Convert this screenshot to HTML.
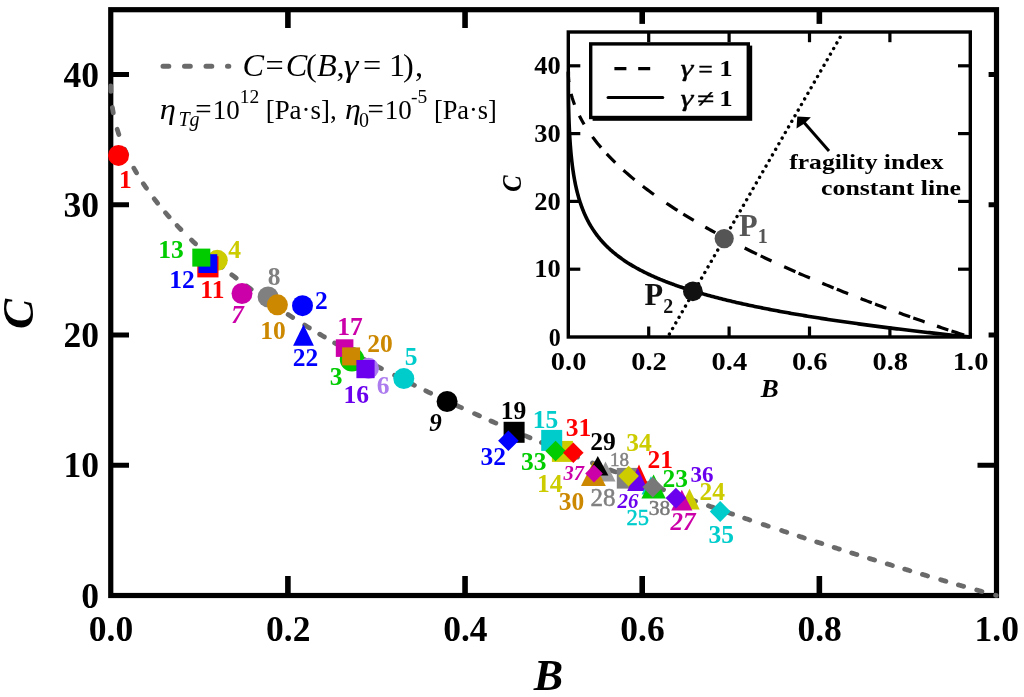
<!DOCTYPE html>
<html lang="en"><head><meta charset="utf-8"><title>C versus B plot</title>
<style>html,body{margin:0;padding:0;background:#fff;}body{width:1024px;height:697px;overflow:hidden;}svg{display:block;}text{font-family:"Liberation Serif", "DejaVu Serif", serif;}</style></head><body>
<svg width="1024" height="697" viewBox="0 0 1024 697">
<rect width="1024" height="697" fill="#fff"/>
<g id="main-axes" stroke="#000" fill="none">
<rect x="110.75" y="9.70" width="885.75" height="585.80" stroke-width="5.2"/>
<line x1="287.90" y1="595" x2="287.90" y2="576" stroke-width="5.6"/>
<line x1="287.90" y1="10" x2="287.90" y2="28.0" stroke-width="5.6"/>
<line x1="465.05" y1="595" x2="465.05" y2="576" stroke-width="5.6"/>
<line x1="465.05" y1="10" x2="465.05" y2="28.0" stroke-width="5.6"/>
<line x1="642.20" y1="595" x2="642.20" y2="576" stroke-width="5.6"/>
<line x1="642.20" y1="10" x2="642.20" y2="23.9" stroke-width="5.6"/>
<line x1="819.35" y1="595" x2="819.35" y2="576" stroke-width="5.6"/>
<line x1="819.35" y1="10" x2="819.35" y2="23.9" stroke-width="5.6"/>
<line x1="111" y1="465.25" x2="129" y2="465.25" stroke-width="5"/>
<line x1="996" y1="465.25" x2="977.5" y2="465.25" stroke-width="5"/>
<line x1="111" y1="335.00" x2="129" y2="335.00" stroke-width="5"/>
<line x1="996" y1="335.00" x2="988.6" y2="335.00" stroke-width="5"/>
<line x1="111" y1="204.75" x2="129" y2="204.75" stroke-width="5"/>
<line x1="996" y1="204.75" x2="988.6" y2="204.75" stroke-width="5"/>
<line x1="111" y1="74.50" x2="129" y2="74.50" stroke-width="5"/>
<line x1="996" y1="74.50" x2="988.6" y2="74.50" stroke-width="5"/>
</g>
<g id="main-ticklabels" font-weight="bold" font-size="35.5" fill="#000">
<text x="111.05" y="640.8" text-anchor="middle">0.0</text>
<text x="288.20" y="640.8" text-anchor="middle">0.2</text>
<text x="465.35" y="640.8" text-anchor="middle">0.4</text>
<text x="642.50" y="640.8" text-anchor="middle">0.6</text>
<text x="819.65" y="640.8" text-anchor="middle">0.8</text>
<text x="996.80" y="640.8" text-anchor="middle">1.0</text>
<text x="99" y="607.70" text-anchor="end">0</text>
<text x="99" y="477.45" text-anchor="end">10</text>
<text x="99" y="347.20" text-anchor="end">20</text>
<text x="99" y="216.95" text-anchor="end">30</text>
<text x="99" y="86.70" text-anchor="end">40</text>
</g>
<text x="548.5" y="690.3" text-anchor="middle" font-size="44" font-weight="bold" font-style="italic">B</text>
<text transform="translate(32.8 314) rotate(-90)" text-anchor="middle" font-size="45" font-weight="bold" font-style="italic">C</text>
<line x1="163" y1="66.3" x2="228.8" y2="66.3" stroke="#6a6a6a" stroke-width="5" stroke-linecap="round" stroke-dasharray="5.8 15.7"/>
<text y="76.4" font-size="32.3"><tspan x="242.4" font-style="italic">C</tspan><tspan x="265.6">=</tspan><tspan x="285.8" font-style="italic">C</tspan><tspan x="306">(</tspan><tspan x="317" font-style="italic">B</tspan><tspan x="336.5">,</tspan><tspan x="363">=</tspan><tspan x="389">1</tspan><tspan x="403">)</tspan><tspan x="415">,</tspan></text>
<text transform="translate(343.8 76.4) scale(1.15 1)" font-size="32.3" font-style="italic">γ</text>
<text y="118.5" font-size="28"><tspan x="178.5" font-style="italic" font-size="20" dy="7.5">Tg</tspan><tspan x="195.2" dy="-7.5" font-size="29">=</tspan><tspan x="212.8" textLength="27" lengthAdjust="spacingAndGlyphs">10</tspan><tspan x="239.8" font-size="19.5" dy="-16">12</tspan><tspan x="265.7" dy="16" textLength="71" lengthAdjust="spacingAndGlyphs">[Pa·s],</tspan><tspan x="358.9" font-size="20" dy="8.5">0</tspan><tspan x="367.6" dy="-8.5" font-size="29">=</tspan><tspan x="384.7" textLength="27" lengthAdjust="spacingAndGlyphs">10</tspan><tspan x="411.1" font-size="19.5" dy="-16">-5</tspan><tspan x="433.9" dy="16" textLength="63" lengthAdjust="spacingAndGlyphs">[Pa·s]</tspan></text>
<text transform="translate(159.8 118.5) scale(1.12 1)" font-size="29" font-style="italic">η</text>
<text transform="translate(345 118.5) scale(1.1 1)" font-size="29" font-style="italic">η</text>
<path d="M110.75 85.90 L110.76 87.25 L110.78 88.60 L110.81 89.95 L110.86 91.30 M112.38 107.53 L112.58 108.87 L112.80 110.20 L113.03 111.53 L113.27 112.86 M117.23 129.32 L117.62 130.61 L118.02 131.90 L118.43 133.19 L118.85 134.47 M124.47 149.20 L125.01 150.44 L125.56 151.67 L126.12 152.90 L126.68 154.13 M133.87 168.16 L134.53 169.34 L135.20 170.51 L135.88 171.68 L136.56 172.84 M143.39 183.73 L144.14 184.85 L144.90 185.97 L145.66 187.08 L146.43 188.19 M154.25 198.89 L155.07 199.96 L155.90 201.02 L156.73 202.09 L157.57 203.14 M165.53 212.76 L166.41 213.78 L167.30 214.80 L168.19 215.81 L169.08 216.82 M177.14 225.60 L178.07 226.58 L179.00 227.55 L179.94 228.53 L180.88 229.50 M191.54 240.07 L192.52 241.00 L193.50 241.93 L194.48 242.86 L195.47 243.78 M204.59 252.09 L205.60 252.99 L206.61 253.88 L207.63 254.77 L208.65 255.66 M218.05 263.66 L219.09 264.52 L220.13 265.38 L221.18 266.23 L222.22 267.09 M231.87 274.79 L232.93 275.62 L234.00 276.45 L235.07 277.27 L236.14 278.10 M246.82 286.15 L247.91 286.95 L249.00 287.75 L250.09 288.54 L251.18 289.34 M261.79 296.90 L262.89 297.67 L264.00 298.45 L265.11 299.22 L266.22 299.98 M274.76 305.80 L275.88 306.55 L277.00 307.30 L278.12 308.05 L279.25 308.80 M288.13 314.61 L289.26 315.35 L290.40 316.08 L291.54 316.81 L292.67 317.53 M304.70 325.09 L305.85 325.80 L307.00 326.50 L308.15 327.21 L309.30 327.91 M319.68 334.17 L320.84 334.86 L322.00 335.55 L323.16 336.24 L324.32 336.92 M334.66 342.94 L335.83 343.61 L337.00 344.28 L338.17 344.95 L339.34 345.62 M348.55 350.81 L349.73 351.46 L350.91 352.12 L352.09 352.77 L353.27 353.43 M362.53 358.50 L363.72 359.14 L364.91 359.78 L366.10 360.42 L367.29 361.06 M376.61 366.03 L377.81 366.66 L379.00 367.29 L380.20 367.91 L381.39 368.54 M394.59 375.36 L395.80 375.98 L397.00 376.59 L398.20 377.20 L399.41 377.81 M409.58 382.92 L410.79 383.52 L412.00 384.12 L413.21 384.72 L414.42 385.31 M425.77 390.86 L426.98 391.45 L428.20 392.04 L429.42 392.62 L430.63 393.21 M441.13 398.21 L442.35 398.79 L443.57 399.37 L444.79 399.94 L446.01 400.52 M456.55 405.42 L457.77 405.99 L459.00 406.56 L460.23 407.12 L461.45 407.68 M474.54 413.63 L475.77 414.19 L477.00 414.74 L478.23 415.29 L479.46 415.85 M490.93 420.94 L492.16 421.48 L493.40 422.02 L494.64 422.57 L495.87 423.11 M507.94 428.35 L509.18 428.88 L510.42 429.42 L511.66 429.95 L512.90 430.48 M525.01 435.63 L526.26 436.15 L527.50 436.67 L528.74 437.20 L529.99 437.72 M541.50 442.51 L542.75 443.03 L544.00 443.54 L545.25 444.06 L546.50 444.57 M556.98 448.86 L558.23 449.36 L559.48 449.87 L560.73 450.38 L561.98 450.88 M572.49 455.10 L573.75 455.60 L575.00 456.10 L576.25 456.60 L577.51 457.10 M592.48 462.99 L593.74 463.49 L595.00 463.98 L596.26 464.47 L597.52 464.95 M610.48 469.96 L611.74 470.44 L613.00 470.92 L614.26 471.40 L615.52 471.88 M626.44 476.03 L627.71 476.50 L628.97 476.98 L630.23 477.45 L631.50 477.93 M642.44 482.01 L643.70 482.48 L644.97 482.95 L646.24 483.42 L647.50 483.89 M658.46 487.92 L659.73 488.38 L661.00 488.84 L662.27 489.30 L663.54 489.77 M674.45 493.72 L675.72 494.17 L676.99 494.63 L678.26 495.09 L679.53 495.54 M690.46 499.44 L691.73 499.89 L693.00 500.34 L694.27 500.79 L695.55 501.24 M708.45 505.78 L709.73 506.22 L711.00 506.67 L712.27 507.11 L713.55 507.55 M727.45 512.36 L728.72 512.80 L730.00 513.24 L731.28 513.67 L732.55 514.11 M744.64 518.23 L745.92 518.66 L747.20 519.09 L748.48 519.52 L749.76 519.96 M763.14 524.44 L764.42 524.87 L765.70 525.30 L766.98 525.72 L768.26 526.15 M781.63 530.57 L782.92 530.99 L784.20 531.41 L785.48 531.83 L786.77 532.25 M799.13 536.28 L800.42 536.69 L801.70 537.11 L802.98 537.53 L804.27 537.94 M816.68 541.93 L817.96 542.34 L819.25 542.75 L820.54 543.16 L821.82 543.57 M834.17 547.48 L835.46 547.89 L836.75 548.29 L838.04 548.70 L839.33 549.10 M851.72 552.98 L853.01 553.38 L854.30 553.78 L855.59 554.18 L856.88 554.58 M869.42 558.45 L870.71 558.85 L872.00 559.24 L873.29 559.64 L874.58 560.03 M887.22 563.88 L888.51 564.27 L889.80 564.66 L891.09 565.05 L892.38 565.44 M904.71 569.15 L906.01 569.53 L907.30 569.92 L908.59 570.31 L909.89 570.69 M922.41 574.40 L923.70 574.78 L925.00 575.16 L926.30 575.55 L927.59 575.93 M940.71 579.76 L942.00 580.13 L943.30 580.51 L944.60 580.89 L945.89 581.26 M958.40 584.86 L959.70 585.23 L961.00 585.60 L962.30 585.97 L963.60 586.34 M976.70 590.05 L978.00 590.41 L979.30 590.78 L980.60 591.14 L981.90 591.50 M995.63 595.27 L995.77 595.31 L995.92 595.35 L996.06 595.39 L996.21 595.42" fill="none" stroke="#6a6a6a" stroke-width="4.8" stroke-linecap="round"/>
<g id="points">
<circle cx="118.5" cy="155.4" r="10.5" fill="#ff0000"/>
<circle cx="217.3" cy="260.3" r="10.5" fill="#cccc00"/>
<rect x="197.3" y="256.2" width="21.2" height="21.2" fill="#ff0000"/>
<rect x="198.5" y="254.2" width="18.8" height="18.8" fill="#0000ff"/>
<rect x="192.3" y="248.6" width="18.0" height="18.0" fill="#00cc00"/>
<circle cx="268.1" cy="296.9" r="10.5" fill="#808080"/>
<circle cx="242.0" cy="293.5" r="10.5" fill="#cc00a8"/>
<circle cx="277.4" cy="304.8" r="10.5" fill="#cc8800"/>
<circle cx="302.5" cy="305.7" r="10.5" fill="#0000ff"/>
<polygon points="303.5,324.6 313.9,345.7 293.1,345.7" fill="#0000ff"/>
<circle cx="352.0" cy="359.3" r="12.2" fill="#00cc00"/>
<rect x="335.8" y="339.3" width="17.6" height="17.6" fill="#cc00a8"/>
<rect x="342.1" y="347.4" width="18.0" height="18.0" fill="#cc8800"/>
<circle cx="368.5" cy="368.3" r="10.5" fill="#ac7cee"/>
<rect x="356.4" y="360.0" width="18.2" height="18.2" fill="#6a00ee"/>
<circle cx="403.8" cy="378.6" r="10.5" fill="#00cccc"/>
<circle cx="447.1" cy="401.5" r="10.5" fill="#000000"/>
<rect x="503.6" y="421.8" width="21.0" height="21.0" fill="#000000"/>
<polygon points="498.1,440.8 508.4,430.5 518.7,440.8 508.4,451.1" fill="#0000ff"/>
<rect x="551.9" y="440.9" width="21.0" height="21.0" fill="#cccc00"/>
<rect x="541.2" y="429.9" width="21.0" height="21.0" fill="#00cccc"/>
<polygon points="545.3,451.0 555.6,440.7 565.9,451.0 555.6,461.3" fill="#00cc00"/>
<polygon points="563.0,452.8 573.3,442.5 583.6,452.8 573.3,463.1" fill="#ff0000"/>
<polygon points="605.5,461.6 615.5,481.6 595.5,481.6" fill="#9a9a9a"/>
<polygon points="593.4,461.5 605.8,486.1 581.0,486.1" fill="#cc8800"/>
<polygon points="597.8,456.0 608.4,475.6 587.2,475.6" fill="#000000"/>
<polygon points="585.2,473.6 594.0,464.8 602.8,473.6 594.0,482.4" fill="#cc00a8"/>
<rect x="616.8" y="467.9" width="20.7" height="20.7" fill="#808080"/>
<polygon points="639.0,464.5 649.0,486.2 629.0,486.2" fill="#ff0000"/>
<polygon points="637.7,468.1 648.2,490.9 627.2,490.9" fill="#6a00ee"/>
<polygon points="618.3,476.1 628.6,465.8 638.9,476.1 628.6,486.4" fill="#cccc00"/>
<polygon points="651.0,476.3 660.5,494.5 641.5,494.5" fill="#00cccc"/>
<polygon points="653.6,474.5 665.8,498.4 641.4,498.4" fill="#00cc00"/>
<polygon points="642.4,487.1 652.8,476.7 663.2,487.1 652.8,497.5" fill="#787878"/>
<polygon points="689.5,488.7 699.7,509.5 679.3,509.5" fill="#cccc00"/>
<polygon points="681.8,489.8 692.4,510.6 671.2,510.6" fill="#cc00a8"/>
<polygon points="665.6,498.1 675.9,487.8 686.2,498.1 675.9,508.4" fill="#6a00ee"/>
<polygon points="709.8,511.5 720.2,501.1 730.6,511.5 720.2,521.9" fill="#00cccc"/>
</g>
<g id="point-labels" text-anchor="middle">
<text x="125.3" y="187.6" fill="#ff0000" font-size="25.5" font-weight="bold" font-style="normal">1</text>
<text x="170.9" y="257.6" fill="#00cc00" font-size="25.5" font-weight="bold" font-style="normal">13</text>
<text x="234.5" y="257.6" fill="#cccc00" font-size="25.5" font-weight="bold" font-style="normal">4</text>
<text x="182.0" y="288.4" fill="#0000ff" font-size="25.5" font-weight="bold" font-style="normal">12</text>
<text x="212.4" y="297.8" fill="#ff0000" font-size="25.5" font-weight="bold" font-style="normal">11</text>
<text x="237.4" y="323.3" fill="#cc00a8" font-size="25" font-weight="bold" font-style="italic">7</text>
<text x="274.0" y="285.4" fill="#808080" font-size="25.5" font-weight="bold" font-style="normal">8</text>
<text x="321.4" y="309.4" fill="#0000ff" font-size="25.5" font-weight="bold" font-style="normal">2</text>
<text x="273.1" y="339.2" fill="#cc8800" font-size="25.5" font-weight="bold" font-style="normal">10</text>
<text x="305.4" y="366.4" fill="#0000ff" font-size="25.5" font-weight="bold" font-style="normal">22</text>
<text x="350.0" y="334.5" fill="#cc00a8" font-size="25.5" font-weight="bold" font-style="normal">17</text>
<text x="380.0" y="352.0" fill="#cc8800" font-size="25.5" font-weight="bold" font-style="normal">20</text>
<text x="336.0" y="385.4" fill="#00cc00" font-size="25.5" font-weight="bold" font-style="normal">3</text>
<text x="411.0" y="364.7" fill="#00cccc" font-size="25.5" font-weight="bold" font-style="normal">5</text>
<text x="383.0" y="393.8" fill="#ac7cee" font-size="25.5" font-weight="bold" font-style="normal">6</text>
<text x="356.3" y="402.8" fill="#6a00ee" font-size="25.5" font-weight="bold" font-style="normal">16</text>
<text x="435.6" y="431.0" fill="#000000" font-size="25" font-weight="bold" font-style="italic">9</text>
<text x="513.6" y="419.1" fill="#000000" font-size="25.5" font-weight="bold" font-style="normal">19</text>
<text x="545.6" y="427.7" fill="#00cccc" font-size="25.5" font-weight="bold" font-style="normal">15</text>
<text x="578.5" y="436.4" fill="#ff0000" font-size="25.5" font-weight="bold" font-style="normal">31</text>
<text x="493.2" y="464.5" fill="#0000ff" font-size="25.5" font-weight="bold" font-style="normal">32</text>
<text x="533.8" y="469.6" fill="#00cc00" font-size="25.5" font-weight="bold" font-style="normal">33</text>
<text x="549.8" y="491.5" fill="#cccc00" font-size="25.5" font-weight="bold" font-style="normal">14</text>
<text x="573.8" y="480.1" fill="#cc00a8" font-size="20.5" font-weight="bold" font-style="italic">37</text>
<text x="603.1" y="450.4" fill="#000000" font-size="25.5" font-weight="bold" font-style="normal">29</text>
<text x="639.1" y="450.5" fill="#cccc00" font-size="25.5" font-weight="bold" font-style="normal">34</text>
<text x="660.3" y="468.4" fill="#ff0000" font-size="25.5" font-weight="bold" font-style="normal">21</text>
<text x="619.5" y="466.0" fill="#808080" font-size="19" font-weight="normal" font-style="normal" stroke="#808080" stroke-width="0.5">18</text>
<text x="571.4" y="510.4" fill="#cc8800" font-size="25.5" font-weight="bold" font-style="normal">30</text>
<text x="603.1" y="506.1" fill="#808080" font-size="25" font-weight="normal" font-style="normal" stroke="#808080" stroke-width="0.5">28</text>
<text x="628.0" y="507.6" fill="#6a00ee" font-size="21" font-weight="bold" font-style="italic">26</text>
<text x="675.3" y="486.8" fill="#00cc00" font-size="25.5" font-weight="bold" font-style="normal">23</text>
<text x="701.9" y="482.0" fill="#6a00ee" font-size="23" font-weight="bold" font-style="normal">36</text>
<text x="712.3" y="500.3" fill="#cccc00" font-size="25.5" font-weight="bold" font-style="normal">24</text>
<text x="637.8" y="524.7" fill="#00cccc" font-size="22.5" font-weight="normal" font-style="normal" stroke="#00cccc" stroke-width="0.5">25</text>
<text x="659.4" y="515.3" fill="#787878" font-size="21.5" font-weight="normal" font-style="normal" stroke="#787878" stroke-width="0.5">38</text>
<text x="683.0" y="529.8" fill="#cc00a8" font-size="25" font-weight="bold" font-style="italic">27</text>
<text x="721.2" y="542.8" fill="#00cccc" font-size="25.5" font-weight="bold" font-style="normal">35</text>
</g>
<g id="inset">
<rect x="568.30" y="32.00" width="402.00" height="305.00" fill="#fff" stroke="none"/>
<clipPath id="ic"><rect x="566.30" y="30" width="406.00" height="309.00"/></clipPath>
<g clip-path="url(#ic)" fill="none" stroke="#000">
<path d="M568.30 71.90 L568.33 73.99 L568.41 76.07 L568.54 78.15 L568.72 80.23 L568.95 82.30 M571.10 93.79 L571.69 96.01 L572.33 98.21 L573.02 100.39 L573.76 102.57 L574.54 104.72 M579.39 115.77 L580.29 117.53 L581.22 119.28 L582.18 121.02 L583.16 122.74 L584.17 124.44 M592.48 136.85 L594.14 139.06 L595.83 141.24 L597.56 143.39 L599.32 145.52 L601.10 147.62 M606.70 153.87 L608.38 155.65 L610.08 157.42 L611.80 159.17 L613.53 160.90 L615.28 162.61 M623.42 170.20 L625.62 172.14 L627.83 174.07 L630.06 175.97 L632.30 177.86 L634.57 179.72 M642.84 186.28 L645.04 187.96 L647.25 189.63 L649.48 191.29 L651.71 192.92 L653.96 194.55 M666.45 203.22 L668.65 204.69 L670.87 206.15 L673.09 207.60 L675.31 209.04 L677.55 210.47 M683.25 214.06 L685.34 215.34 L687.43 216.62 L689.53 217.90 L691.63 219.16 L693.74 220.42 M705.26 227.10 L707.27 228.24 L709.28 229.37 L711.30 230.49 L713.31 231.61 L715.34 232.72 M744.67 248.05 L747.11 249.27 L749.56 250.48 L752.02 251.69 L754.47 252.89 L756.93 254.08 M760.67 255.88 L762.84 256.91 L765.01 257.94 L767.18 258.96 L769.35 259.98 L771.53 260.99 M784.17 266.78 L786.42 267.79 L788.67 268.80 L790.92 269.80 L793.17 270.80 L795.43 271.79 M798.57 273.17 L800.84 274.16 L803.11 275.14 L805.38 276.12 L807.65 277.09 L809.92 278.06 M822.28 283.25 L824.54 284.19 L826.81 285.12 L829.08 286.05 L831.35 286.98 L833.62 287.90 M836.78 289.18 L839.04 290.09 L841.31 290.99 L843.58 291.90 L845.85 292.80 L848.12 293.70 M860.58 298.55 L862.83 299.41 L865.07 300.27 L867.32 301.13 L869.57 301.99 L871.82 302.84 M875.08 304.07 L877.33 304.91 L879.57 305.74 L881.82 306.58 L884.07 307.41 L886.32 308.24 M898.78 312.78 L901.05 313.60 L903.31 314.41 L905.58 315.22 L907.85 316.03 L910.12 316.83 M913.28 317.95 L915.55 318.74 L917.81 319.54 L920.08 320.33 L922.35 321.11 L924.62 321.90 M936.98 326.12 L939.25 326.89 L941.51 327.65 L943.78 328.41 L946.05 329.16 L948.32 329.91 M951.48 330.96 L954.01 331.79 L956.53 332.61 L959.06 333.43 L961.59 334.25 L964.11 335.06" stroke-width="3.2" stroke-linecap="butt"/>
<path d="M568.30 71.60 L568.30 73.53 L568.30 75.69 L568.31 77.94 L568.32 80.22 L568.33 82.52 L568.34 84.83 L568.35 87.14 L568.37 89.43 L568.40 91.72 L568.42 93.99 L568.45 96.25 L568.48 98.48 L568.51 100.70 L568.55 102.89 L568.59 105.06 L568.64 107.21 L568.69 109.33 L568.74 111.43 L568.79 113.50 L568.85 115.55 L568.91 117.58 L568.98 119.58 L569.05 121.55 L569.12 123.50 L569.20 125.43 L569.28 127.33 L569.37 129.21 L569.46 131.06 L569.55 132.89 L569.65 134.69 L569.75 136.48 L569.85 138.24 L569.96 139.98 L570.07 141.69 L570.19 143.39 L570.31 145.06 L570.44 146.71 L570.57 148.34 L570.70 149.95 L570.84 151.54 L570.98 153.10 L571.12 154.65 L571.27 156.18 L571.43 157.69 L571.59 159.19 L571.75 160.66 L571.92 162.12 L572.09 163.55 L572.26 164.97 L572.44 166.38 L572.63 167.76 L572.82 169.13 L573.01 170.48 L573.21 171.82 L573.41 173.14 L573.62 174.45 L573.83 175.74 L574.04 177.01 L574.26 178.27 L574.49 179.52 L574.72 180.75 L574.95 181.96 L575.19 183.17 L575.43 184.36 L575.68 185.53 L575.93 186.70 L576.19 187.85 L576.45 188.98 L576.72 190.11 L576.99 191.22 L577.26 192.32 L577.54 193.41 L577.83 194.49 L578.12 195.56 L578.41 196.61 L578.71 197.65 L579.01 198.69 L579.32 199.71 L579.64 200.72 L579.95 201.72 L580.28 202.71 L580.61 203.69 L580.94 204.66 L581.28 205.62 L581.62 206.57 L581.96 207.52 L582.32 208.45 L582.67 209.37 L583.04 210.29 L583.40 211.19 L583.77 212.09 L584.15 212.98 L584.53 213.86 L584.92 214.73 L585.31 215.60 L585.71 216.45 L586.11 217.30 L586.51 218.14 L586.92 218.97 L587.34 219.80 L587.76 220.61 L588.19 221.42 L588.62 222.23 L589.06 223.02 L589.50 223.81 L589.95 224.59 L590.40 225.37 L590.85 226.14 L591.32 226.90 L591.78 227.65 L592.26 228.40 L592.73 229.14 L593.22 229.88 L593.70 230.61 L594.20 231.33 L594.69 232.05 L595.20 232.77 L595.71 233.47 L596.22 234.17 L596.74 234.87 L597.26 235.56 L597.79 236.24 L598.33 236.92 L598.86 237.59 L599.41 238.26 L599.96 238.93 L600.52 239.58 L601.08 240.24 L601.64 240.89 L602.21 241.53 L602.79 242.17 L603.37 242.80 L603.96 243.43 L604.55 244.05 L605.15 244.67 L605.75 245.29 L606.36 245.90 L606.97 246.51 L607.59 247.11 L608.22 247.71 L608.85 248.30 L609.48 248.89 L610.12 249.48 L610.77 250.06 L611.42 250.64 L612.08 251.21 L612.74 251.78 L613.41 252.34 L614.08 252.91 L614.76 253.46 L615.45 254.02 L616.14 254.57 L616.83 255.12 L617.53 255.66 L618.24 256.20 L618.95 256.74 L619.67 257.27 L620.39 257.80 L621.12 258.33 L621.85 258.85 L622.59 259.37 L623.33 259.89 L624.08 260.40 L624.84 260.91 L625.60 261.42 L626.37 261.92 L627.14 262.43 L627.92 262.92 L628.70 263.42 L629.49 263.91 L630.28 264.40 L631.09 264.89 L631.89 265.37 L632.70 265.85 L633.52 266.33 L634.34 266.81 L635.17 267.28 L636.00 267.75 L636.84 268.22 L637.69 268.68 L638.54 269.14 L639.40 269.60 L640.26 270.06 L641.13 270.52 L642.00 270.97 L642.88 271.42 L643.77 271.87 L644.66 272.31 L645.55 272.75 L646.45 273.20 L647.36 273.63 L648.28 274.07 L649.19 274.50 L650.12 274.93 L651.05 275.36 L651.99 275.79 L652.93 276.22 L653.88 276.64 L654.83 277.06 L655.79 277.48 L656.76 277.90 L657.73 278.31 L658.70 278.72 L659.69 279.13 L660.67 279.54 L661.67 279.95 L662.67 280.35 L663.67 280.76 L664.69 281.16 L665.70 281.56 L666.73 281.95 L667.76 282.35 L668.79 282.74 L669.83 283.13 L670.88 283.52 L671.93 283.91 L672.99 284.30 L674.05 284.68 L675.12 285.07 L676.20 285.45 L677.28 285.83 L678.37 286.21 L679.46 286.58 L680.56 286.96 L681.67 287.33 L682.78 287.70 L683.90 288.07 L685.02 288.44 L686.15 288.81 L687.29 289.17 L688.43 289.54 L689.57 289.90 L690.73 290.26 L691.89 290.62 L693.05 290.98 L694.22 291.34 L695.40 291.69 L696.58 292.04 L697.77 292.40 L698.96 292.75 L700.17 293.10 L701.37 293.45 L702.59 293.79 L703.80 294.14 L705.03 294.48 L706.26 294.83 L707.50 295.17 L708.74 295.51 L709.99 295.85 L711.24 296.18 L712.50 296.52 L713.77 296.86 L715.04 297.19 L716.32 297.52 L717.61 297.86 L718.90 298.19 L720.20 298.52 L721.50 298.84 L722.81 299.17 L724.12 299.50 L725.45 299.82 L726.77 300.14 L728.11 300.47 L729.45 300.79 L730.79 301.11 L732.15 301.43 L733.50 301.75 L734.87 302.06 L736.24 302.38 L737.61 302.69 L739.00 303.01 L740.39 303.32 L741.78 303.63 L743.18 303.94 L744.59 304.25 L746.00 304.56 L747.42 304.87 L748.85 305.18 L750.28 305.48 L751.72 305.79 L753.16 306.09 L754.61 306.39 L756.07 306.70 L757.53 307.00 L759.00 307.30 L760.48 307.60 L761.96 307.89 L763.45 308.19 L764.94 308.49 L766.44 308.78 L767.95 309.08 L769.46 309.37 L770.98 309.66 L772.50 309.96 L774.03 310.25 L775.57 310.54 L777.11 310.83 L778.66 311.12 L780.22 311.40 L781.78 311.69 L783.35 311.98 L784.93 312.26 L786.51 312.55 L788.09 312.83 L789.69 313.11 L791.29 313.40 L792.89 313.68 L794.51 313.96 L796.13 314.24 L797.75 314.52 L799.38 314.80 L801.02 315.07 L802.66 315.35 L804.31 315.63 L805.97 315.90 L807.63 316.18 L809.30 316.45 L810.98 316.72 L812.66 317.00 L814.35 317.27 L816.05 317.54 L817.75 317.81 L819.45 318.08 L821.17 318.35 L822.89 318.62 L824.61 318.88 L826.35 319.15 L828.09 319.42 L829.83 319.68 L831.58 319.95 L833.34 320.21 L835.11 320.48 L836.88 320.74 L838.66 321.00 L840.44 321.26 L842.23 321.53 L844.03 321.79 L845.83 322.05 L847.64 322.30 L849.46 322.56 L851.28 322.82 L853.11 323.08 L854.94 323.34 L856.78 323.59 L858.63 323.85 L860.49 324.10 L862.35 324.36 L864.22 324.61 L866.09 324.86 L867.97 325.12 L869.86 325.37 L871.75 325.62 L873.65 325.87 L875.56 326.12 L877.47 326.37 L879.39 326.62 L881.31 326.87 L883.25 327.12 L885.19 327.36 L887.13 327.61 L889.08 327.86 L891.04 328.10 L893.00 328.35 L894.98 328.59 L896.95 328.84 L898.94 329.08 L900.93 329.32 L902.93 329.56 L904.93 329.81 L906.94 330.05 L908.96 330.29 L910.98 330.53 L913.01 330.77 L915.05 331.01 L917.09 331.25 L919.14 331.48 L921.19 331.72 L923.26 331.96 L925.33 332.19 L927.40 332.43 L929.48 332.66 L931.57 332.90 L933.67 333.13 L935.77 333.37 L937.88 333.60 L939.99 333.83 L942.12 334.06 L944.24 334.29 L946.38 334.52 L948.52 334.75 L950.67 334.98 L952.82 335.21 L954.99 335.44 L957.15 335.67 L959.33 335.89 L961.51 336.12 L963.70 336.34 L965.89 336.56 L968.09 336.78 L970.30 337.00" stroke-width="3.6"/>
<line x1="840.1" y1="37.3" x2="668" y2="336.5" stroke-width="3.4" stroke-linecap="round" stroke-dasharray="0.01 6.45"/>
</g>
<g stroke="#000" fill="none" stroke-width="3.2">
<line x1="648.70" y1="337" x2="648.70" y2="326.5"/>
<line x1="648.70" y1="32" x2="648.70" y2="42.2"/>
<line x1="729.10" y1="337" x2="729.10" y2="326.5"/>
<line x1="729.10" y1="32" x2="729.10" y2="42.2"/>
<line x1="809.50" y1="337" x2="809.50" y2="326.5"/>
<line x1="809.50" y1="32" x2="809.50" y2="42.2"/>
<line x1="889.90" y1="337" x2="889.90" y2="326.5"/>
<line x1="889.90" y1="32" x2="889.90" y2="42.2"/>
<line x1="568.3" y1="269.20" x2="580.3" y2="269.20"/>
<line x1="970.3" y1="269.20" x2="958" y2="269.20"/>
<line x1="568.3" y1="201.40" x2="580.3" y2="201.40"/>
<line x1="970.3" y1="201.40" x2="958" y2="201.40"/>
<line x1="568.3" y1="133.60" x2="580.3" y2="133.60"/>
<line x1="970.3" y1="133.60" x2="958" y2="133.60"/>
<line x1="568.3" y1="65.80" x2="580.3" y2="65.80"/>
<line x1="970.3" y1="65.80" x2="958" y2="65.80"/>
<rect x="568.30" y="32.00" width="402.00" height="305.00" stroke-width="3.4"/>
</g>
<g font-weight="bold" font-size="24.6" fill="#000">
<text x="568.60" y="369.6" text-anchor="middle" textLength="35.6" lengthAdjust="spacingAndGlyphs">0.0</text>
<text x="649.00" y="369.6" text-anchor="middle" textLength="35.6" lengthAdjust="spacingAndGlyphs">0.2</text>
<text x="729.40" y="369.6" text-anchor="middle" textLength="35.6" lengthAdjust="spacingAndGlyphs">0.4</text>
<text x="809.80" y="369.6" text-anchor="middle" textLength="35.6" lengthAdjust="spacingAndGlyphs">0.6</text>
<text x="890.20" y="369.6" text-anchor="middle" textLength="35.6" lengthAdjust="spacingAndGlyphs">0.8</text>
<text x="970.60" y="369.6" text-anchor="middle" textLength="35.6" lengthAdjust="spacingAndGlyphs">1.0</text>
<text x="560.8" y="345.50" text-anchor="end" textLength="12" lengthAdjust="spacingAndGlyphs">0</text>
<text x="560.8" y="277.40" text-anchor="end" textLength="26.5" lengthAdjust="spacingAndGlyphs">10</text>
<text x="560.8" y="209.60" text-anchor="end" textLength="26.5" lengthAdjust="spacingAndGlyphs">20</text>
<text x="560.8" y="141.80" text-anchor="end" textLength="26.5" lengthAdjust="spacingAndGlyphs">30</text>
<text x="560.8" y="74.00" text-anchor="end" textLength="26.5" lengthAdjust="spacingAndGlyphs">40</text>
</g>
<text transform="translate(769.7 396.8) scale(1.1 1)" text-anchor="middle" font-size="24.5" font-weight="bold" font-style="italic">B</text>
<text transform="translate(521 183.6) rotate(-90) scale(1 1.08)" text-anchor="middle" font-size="24.5" font-weight="bold" font-style="italic">C</text>
<rect x="592.6" y="45.6" width="159.6" height="75.2" fill="#000"/>
<rect x="590.7" y="43.9" width="157.6" height="73.6" fill="#fff" stroke="#000" stroke-width="3.4"/>
<line x1="614.4" y1="68.6" x2="650.4" y2="68.6" stroke="#000" stroke-width="3.1" stroke-dasharray="12 11.8"/>
<line x1="608.1" y1="97.5" x2="662.7" y2="97.5" stroke="#000" stroke-width="3.1" stroke-linecap="round"/>
<text transform="translate(680.4 76.0) scale(1.36 1)" font-size="24" font-weight="normal" font-style="italic" stroke="#000" stroke-width="0.35">γ</text>
<text x="696.8" y="77.8" font-size="25" font-weight="normal" font-style="italic" stroke="#000" stroke-width="0.4" textLength="17.2" lengthAdjust="spacingAndGlyphs">=</text>
<text x="719.3" y="76.0" font-size="24" font-weight="bold" textLength="13.4" lengthAdjust="spacingAndGlyphs">1</text>
<text transform="translate(680.4 105.7) scale(1.36 1)" font-size="24" font-weight="normal" font-style="italic" stroke="#000" stroke-width="0.35">γ</text>
<text x="696.8" y="106.5" font-size="25" font-weight="normal" font-style="italic" stroke="#000" stroke-width="0.4" textLength="17.2" lengthAdjust="spacingAndGlyphs">≠</text>
<text x="719.3" y="105.7" font-size="24" font-weight="bold" textLength="13.4" lengthAdjust="spacingAndGlyphs">1</text>
<circle cx="724.2" cy="238.6" r="9.6" fill="#555"/>
<circle cx="692.9" cy="291.3" r="9.9" fill="#111"/>
<text x="739" y="235.7" font-size="30.5" font-weight="bold" fill="#555">P<tspan font-size="20" dy="7.3">1</tspan></text>
<text x="644.6" y="305.4" font-size="30.5" font-weight="bold" fill="#111">P<tspan font-size="20" dy="7.9">2</tspan></text>
<line x1="829" y1="151" x2="803.6" y2="122" stroke="#000" stroke-width="3"/>
<polygon points="797.3,116.4 810.9,117.3 804.8,123.2 796.5,128.6" fill="#000"/>
<text x="789.2" y="168.7" font-size="21.5" font-weight="bold" textLength="154.5" lengthAdjust="spacingAndGlyphs">fragility index</text>
<text x="821" y="195.4" font-size="21.5" font-weight="bold" textLength="140" lengthAdjust="spacingAndGlyphs">constant line</text>
</g>
</svg></body></html>
